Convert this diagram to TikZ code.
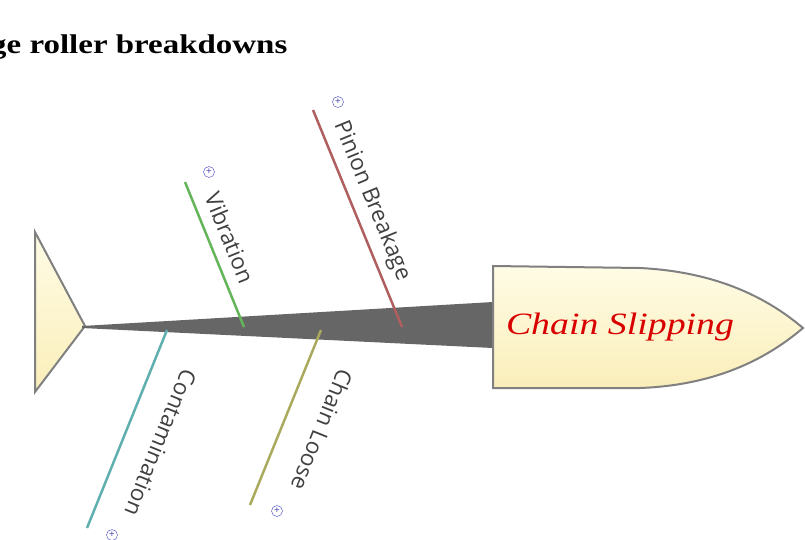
\documentclass[tikz,border=0pt]{standalone}
\usepackage{fontspec}
\setmainfont{Liberation Serif}
\newfontfamily\lblfont{Open Sans}
\begin{document}
\begin{tikzpicture}[x=1pt,y=-1pt,
  bone/.style={line width=2.5pt},
  lbl/.style={font=\lblfont\fontsize{22.5}{22.5}\selectfont,text=black!75,inner sep=0pt},
  plusicon/.style={circle,draw=blue!50!gray,fill=white,minimum size=11pt,inner sep=0pt,font=\bfseries\fontsize{10}{10}\selectfont,text=blue!40!gray}]
\useasboundingbox (0,0) rectangle (805,539);
\definecolor{fy}{RGB}{250,238,185}
\definecolor{fyl}{RGB}{255,252,230}
\node[anchor=base west,inner sep=0pt,font=\bfseries\fontsize{27}{27}\selectfont,xscale=1.22] (title) at (-10,53) {ge roller breakdowns};
% tail
\draw[gray,line width=2pt,top color=fyl,bottom color=fy] (35,232) -- (85,326) -- (35,392) -- cycle;
% spine
\fill[black!60] (82,326) -- (493,302) -- (493,348) -- (82,328) -- cycle;
% head
\draw[gray,line width=2pt,top color=fyl,bottom color=fy] (493,266) -- (640,268) .. controls (720,272) and (770,300) .. (803,328) .. controls (770,356) and (720,385) .. (640,388) -- (493,388) -- cycle;
\node[text=red!85!black,font=\itshape\fontsize{31}{31}\selectfont,xscale=1.22] (head) at (620,327) {Chain Slipping};
% bones
\coordinate (v1) at (185,182); \coordinate (v2) at (244,327);
\coordinate (p1) at (313,110); \coordinate (p2) at (402,327);
\coordinate (c1) at (167,330); \coordinate (c2) at (87,528);
\coordinate (l1) at (321,330); \coordinate (l2) at (250,505);
\draw[bone,color={rgb,255:red,100;green,180;blue,90}] (v1) -- (v2);
\draw[bone,color={rgb,255:red,175;green,95;blue,95}] (p1) -- (p2);
\draw[bone,color={rgb,255:red,95;green,175;blue,175}] (c1) -- (c2);
\draw[bone,color={rgb,255:red,170;green,170;blue,95}] (l1) -- (l2);
\node[lbl,rotate=-67.9,anchor=north west] (vl) at (220,190) {Vibration};
\node[lbl,rotate=-67.7,anchor=north west] (pl) at (350,118) {Pinion Breakage};
\node[lbl,rotate=-112,anchor=south west] (cl) at (182,367) {Contamination};
\node[lbl,rotate=-112,anchor=south west] (ll) at (338,367) {Chain Loose};
\node[plusicon] (vi) at (209,172) {+};
\node[plusicon] (pi) at (338,102) {+};
\node[plusicon] (ci) at (112,535) {+};
\node[plusicon] (li) at (277,511) {+};
\end{tikzpicture}
\end{document}
